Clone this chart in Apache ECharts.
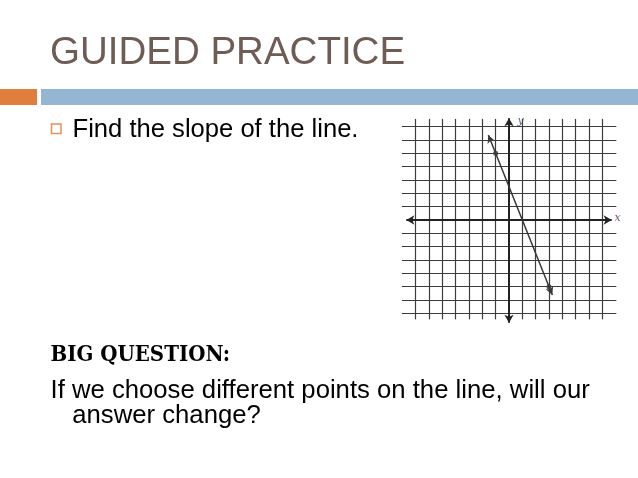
<!DOCTYPE html>
<html>
<head>
<meta charset="utf-8">
<script src="https://cdn.jsdelivr.net/npm/echarts@6/dist/echarts.min.js"></script>
<style>
html,body{margin:0;padding:0;background:#fff;}
#c{width:638px;height:478px;}
</style>
</head>
<body>
<div id="c"></div>
<script>
// ---- data ----
const titleText = 'GUIDED PRACTICE';
const bulletText = 'Find the slope of the line.';
const questionHead = 'BIG QUESTION:';
const questionLines = ['If we choose different points on the line, will our', 'answer change?'];

const xTicks = [-7, -6, -5, -4, -3, -2, -1, 0, 1, 2, 3, 4, 5, 6, 7];
const yTicks = [-7, -6, -5, -4, -3, -2, -1, 0, 1, 2, 3, 4, 5, 6, 7];
const verticalSpan = [-7.45, 7.58];     // y extent of vertical grid lines
const horizontalSpan = [-8.03, 8.05];   // x extent of horizontal grid lines
const xAxisEnds = [[-7.7, 0], [7.7, 0]];
const yAxisEnds = [[0, -7.7], [0, 7.63]];
const lineEnds = [[-1.55, 6.375], [3.25, -5.625]];
const linePoints = [[-1, 5], [3, -5]];
const axisNames = ['x', 'y'];

// ---- build ----
const gridLines = [];
xTicks.forEach(function (x) {
  if (x !== 0) gridLines.push([{ coord: [x, verticalSpan[0]] }, { coord: [x, verticalSpan[1]] }]);
});
yTicks.forEach(function (y) {
  if (y !== 0) gridLines.push([{ coord: [horizontalSpan[0], y] }, { coord: [horizontalSpan[1], y] }]);
});

const chart = echarts.init(document.getElementById('c'), null, { renderer: 'canvas' });
const sans = '"Liberation Sans", Arial, sans-serif';

chart.setOption({
  animation: false,
  backgroundColor: '#ffffff',
  grid: { left: 401, top: 116, width: 216, height: 208 },
  xAxis: { type: 'value', min: -8.1, max: 8.1, show: false },
  yAxis: { type: 'value', min: -7.8, max: 7.8, show: false },
  series: [
    {
      type: 'line', data: [], silent: true,
      markLine: {
        silent: true, symbol: ['none', 'none'], label: { show: false },
        lineStyle: { color: '#3c3c3c', width: 1.2, type: 'solid' },
        emphasis: { disabled: true },
        data: gridLines
      }
    },
    {
      type: 'line', data: [], silent: true,
      markLine: {
        silent: true, symbol: ['arrow', 'arrow'], symbolSize: [7, 8],
        label: { show: false },
        lineStyle: { color: '#222222', width: 2, type: 'solid' },
        itemStyle: { color: '#222222' },
        emphasis: { disabled: true },
        data: [
          [{ coord: xAxisEnds[0] }, { coord: xAxisEnds[1] }],
          [{ coord: yAxisEnds[0] }, { coord: yAxisEnds[1] }]
        ]
      }
    },
    {
      type: 'line', data: [], silent: true,
      markLine: {
        silent: true, symbol: ['arrow', 'arrow'], symbolSize: [6, 8],
        label: { show: false },
        lineStyle: { color: '#383838', width: 1.5, type: 'solid' },
        itemStyle: { color: '#383838' },
        emphasis: { disabled: true },
        data: [[{ coord: lineEnds[0] }, { coord: lineEnds[1] }]]
      }
    },
    {
      type: 'scatter', data: linePoints, symbolSize: 5, silent: true,
      itemStyle: { color: '#2a2a2a' }
    }
  ],
  graphic: [
    { type: 'rect', shape: { x: 0, y: 89, width: 37, height: 16 }, style: { fill: '#e07e3e' }, silent: true },
    { type: 'rect', shape: { x: 41, y: 89, width: 597, height: 16 }, style: { fill: '#94b6d3' }, silent: true },
    { type: 'text', x: 50, y: 53, style: { text: titleText, font: '38.5px ' + sans, fill: '#6e5c55', verticalAlign: 'middle' }, silent: true },
    { type: 'rect', shape: { x: 51.5, y: 124, width: 9.5, height: 9.5 }, style: { fill: '#fff', stroke: '#e8905a', lineWidth: 1.5 }, silent: true },
    { type: 'text', x: 72.5, y: 130, style: { text: bulletText, font: '25.6px ' + sans, fill: '#000', verticalAlign: 'middle' }, silent: true },
    { type: 'text', x: 50.5, y: 355, style: { text: questionHead, font: 'bold 22px "DejaVu Serif Condensed", "DejaVu Serif", serif', fill: '#000', verticalAlign: 'middle' }, silent: true },
    { type: 'text', x: 50.5, y: 391, style: { text: questionLines[0], font: '25.7px ' + sans, fill: '#000', verticalAlign: 'middle' }, silent: true },
    { type: 'text', x: 72.3, y: 416, style: { text: questionLines[1], font: '25.7px ' + sans, fill: '#000', verticalAlign: 'middle' }, silent: true },
    { type: 'text', x: 617.5, y: 218, style: { text: axisNames[0], font: 'italic 11px "DejaVu Serif", serif', fill: '#7a4f72', align: 'center', verticalAlign: 'middle' }, silent: true },
    { type: 'text', x: 520.5, y: 121, style: { text: axisNames[1], font: 'italic 11px "DejaVu Serif", serif', fill: '#5f6f8a', align: 'center', verticalAlign: 'middle' }, silent: true }
  ]
});
</script>
</body>
</html>
